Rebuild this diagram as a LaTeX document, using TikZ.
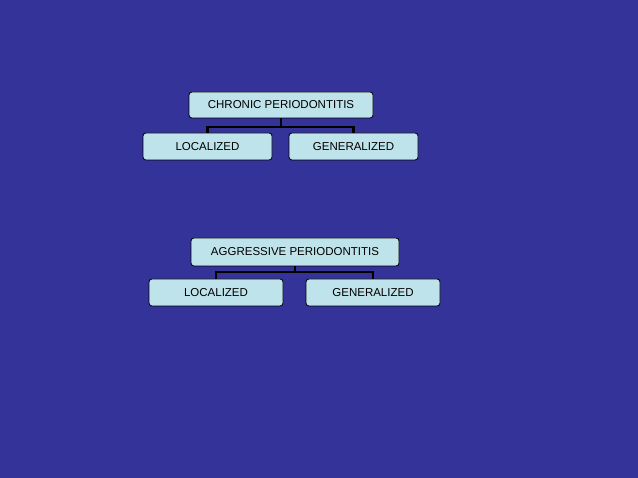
\documentclass[tikz,border=0pt]{standalone}
\usepackage{fontspec}
\setmainfont{Liberation Sans}
\definecolor{bg}{HTML}{333399}
\definecolor{boxc}{HTML}{BFE3EA}
\begin{document}
\begin{tikzpicture}[x=1pt,y=-1pt,
  box/.style={draw=black,fill=boxc,rounded corners=3pt,line width=0.8pt,font=\fontsize{11.5}{13}\selectfont,inner sep=0pt},
  conn/.style={line width=2.5pt,black}]
\fill[bg] (0,0) rectangle (638,478);
\useasboundingbox (0,0) rectangle (638,478);
\node[box,minimum width=184pt,minimum height=26pt] (c) at (281,105) {CHRONIC PERIODONTITIS};
\node[box,minimum width=129pt,minimum height=27pt] (cl) at (207.5,146.5) {LOCALIZED};
\node[box,minimum width=129pt,minimum height=27pt] (cg) at (353.5,146.5) {GENERALIZED};
\coordinate (cj) at (281,127);
\draw[conn] (c.south) -- (cj);
\draw[conn] (cl.north) |- (cj) -| (cg.north);
\node[box,minimum width=208pt,minimum height=28pt] (a) at (295,252) {AGGRESSIVE PERIODONTITIS};
\node[box,minimum width=134pt,minimum height=27pt] (al) at (216,292.5) {LOCALIZED};
\node[box,minimum width=134pt,minimum height=27pt] (ag) at (373,292.5) {GENERALIZED};
\coordinate (aj) at (295,272);
\draw[conn] (a.south) -- (aj);
\draw[conn] (al.north) |- (aj) -| (ag.north);
\end{tikzpicture}
\end{document}
